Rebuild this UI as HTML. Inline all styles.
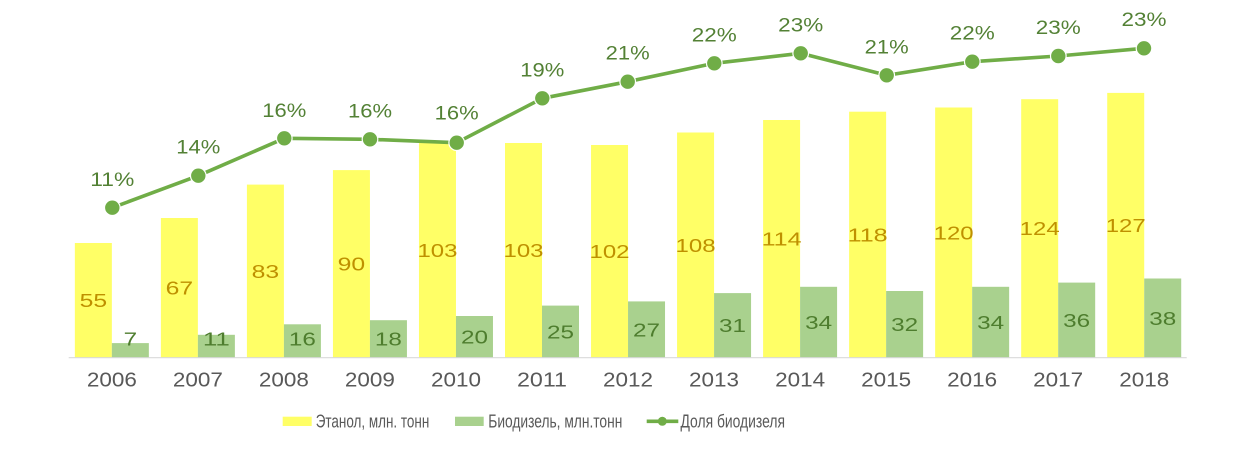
<!DOCTYPE html>
<html>
<head>
<meta charset="utf-8">
<style>
html,body{margin:0;padding:0;background:#fff;}
svg{display:block;}
text{font-family:"Liberation Sans","DejaVu Sans",sans-serif;}
</style>
</head>
<body>
<svg width="1259" height="451" viewBox="0 0 1259 451" xmlns="http://www.w3.org/2000/svg">
<rect width="1259" height="451" fill="#fff"/>
<!-- bars -->
<g id="bars">
<!-- 2006 c=111.85 -->
<rect x="74.85" y="243.0" width="37" height="114.7" fill="#FFFF66"/>
<rect x="111.85" y="343.1" width="37" height="14.6" fill="#A9D18E"/>
<!-- 2007 c=197.88 -->
<rect x="160.88" y="218.0" width="37" height="139.7" fill="#FFFF66"/>
<rect x="197.88" y="334.8" width="37" height="22.9" fill="#A9D18E"/>
<!-- 2008 c=283.91 -->
<rect x="246.91" y="184.6" width="37" height="173.1" fill="#FFFF66"/>
<rect x="283.91" y="324.3" width="37" height="33.4" fill="#A9D18E"/>
<!-- 2009 c=369.94 -->
<rect x="332.94" y="170.1" width="37" height="187.6" fill="#FFFF66"/>
<rect x="369.94" y="320.2" width="37" height="37.5" fill="#A9D18E"/>
<!-- 2010 c=455.97 -->
<rect x="418.97" y="143.0" width="37" height="214.7" fill="#FFFF66"/>
<rect x="455.97" y="316.0" width="37" height="41.7" fill="#A9D18E"/>
<!-- 2011 c=542.0 -->
<rect x="505.0" y="143.0" width="37" height="214.7" fill="#FFFF66"/>
<rect x="542.0" y="305.6" width="37" height="52.1" fill="#A9D18E"/>
<!-- 2012 c=628.03 -->
<rect x="591.03" y="145.0" width="37" height="212.7" fill="#FFFF66"/>
<rect x="628.03" y="301.4" width="37" height="56.3" fill="#A9D18E"/>
<!-- 2013 c=714.06 -->
<rect x="677.06" y="132.5" width="37" height="225.2" fill="#FFFF66"/>
<rect x="714.06" y="293.1" width="37" height="64.6" fill="#A9D18E"/>
<!-- 2014 c=800.09 -->
<rect x="763.09" y="120.0" width="37" height="237.7" fill="#FFFF66"/>
<rect x="800.09" y="286.8" width="37" height="70.9" fill="#A9D18E"/>
<!-- 2015 c=886.12 -->
<rect x="849.12" y="111.7" width="37" height="246.0" fill="#FFFF66"/>
<rect x="886.12" y="291.0" width="37" height="66.7" fill="#A9D18E"/>
<!-- 2016 c=972.15 -->
<rect x="935.15" y="107.5" width="37" height="250.2" fill="#FFFF66"/>
<rect x="972.15" y="286.8" width="37" height="70.9" fill="#A9D18E"/>
<!-- 2017 c=1058.18 -->
<rect x="1021.18" y="99.2" width="37" height="258.5" fill="#FFFF66"/>
<rect x="1058.18" y="282.6" width="37" height="75.1" fill="#A9D18E"/>
<!-- 2018 c=1144.21 -->
<rect x="1107.21" y="92.9" width="37" height="264.8" fill="#FFFF66"/>
<rect x="1144.21" y="278.5" width="37" height="79.2" fill="#A9D18E"/>
</g>
<!-- axis -->
<line x1="68.7" y1="357.7" x2="1186.7" y2="357.7" stroke="#D9D9D9" stroke-width="1.2"/>

<!-- ethanol labels -->
<g fill="#BF9000" font-size="18.5" text-anchor="middle" lengthAdjust="spacingAndGlyphs">
<text x="93.35" y="307.0" textLength="27.5" lengthAdjust="spacingAndGlyphs">55</text>
<text x="179.38" y="294.5" textLength="27.5" lengthAdjust="spacingAndGlyphs">67</text>
<text x="265.41" y="277.8" textLength="27.5" lengthAdjust="spacingAndGlyphs">83</text>
<text x="351.44" y="270.6" textLength="27.5" lengthAdjust="spacingAndGlyphs">90</text>
<text x="437.47" y="257.0" textLength="40" lengthAdjust="spacingAndGlyphs">103</text>
<text x="523.5" y="257.0" textLength="40" lengthAdjust="spacingAndGlyphs">103</text>
<text x="609.53" y="258.0" textLength="40" lengthAdjust="spacingAndGlyphs">102</text>
<text x="695.56" y="251.8" textLength="40" lengthAdjust="spacingAndGlyphs">108</text>
<text x="781.59" y="245.5" textLength="40" lengthAdjust="spacingAndGlyphs">114</text>
<text x="867.62" y="241.4" textLength="40" lengthAdjust="spacingAndGlyphs">118</text>
<text x="953.65" y="239.3" textLength="40" lengthAdjust="spacingAndGlyphs">120</text>
<text x="1039.68" y="235.1" textLength="40" lengthAdjust="spacingAndGlyphs">124</text>
<text x="1125.71" y="232.0" textLength="40" lengthAdjust="spacingAndGlyphs">127</text>
</g>
<!-- biodiesel labels -->
<g fill="#4E7D2E" font-size="18.5" text-anchor="middle">
<text x="130.35" y="345.3" textLength="13.5" lengthAdjust="spacingAndGlyphs">7</text>
<text x="216.38" y="345.6" textLength="27" lengthAdjust="spacingAndGlyphs">11</text>
<text x="302.41" y="345.6" textLength="27" lengthAdjust="spacingAndGlyphs">16</text>
<text x="388.44" y="345.6" textLength="27" lengthAdjust="spacingAndGlyphs">18</text>
<text x="474.47" y="343.5" textLength="27" lengthAdjust="spacingAndGlyphs">20</text>
<text x="560.5" y="338.4" textLength="27" lengthAdjust="spacingAndGlyphs">25</text>
<text x="646.53" y="336.3" textLength="27" lengthAdjust="spacingAndGlyphs">27</text>
<text x="732.56" y="332.1" textLength="27" lengthAdjust="spacingAndGlyphs">31</text>
<text x="818.59" y="329.0" textLength="27" lengthAdjust="spacingAndGlyphs">34</text>
<text x="904.62" y="331.1" textLength="27" lengthAdjust="spacingAndGlyphs">32</text>
<text x="990.65" y="329.0" textLength="27" lengthAdjust="spacingAndGlyphs">34</text>
<text x="1076.68" y="326.9" textLength="27" lengthAdjust="spacingAndGlyphs">36</text>
<text x="1162.71" y="324.8" textLength="27" lengthAdjust="spacingAndGlyphs">38</text>
</g>

<!-- line -->
<polyline fill="none" stroke="#70AD47" stroke-width="3.6" stroke-linejoin="round"
 points="112.3,207.7 198.3,175.7 284.3,138.3 370,139.3 456.7,142.7 542.3,98.3 627.7,81.7 714.3,63.3 800.7,53.3 886.7,75.3 972.3,61.7 1058.3,56 1144,48.3"/>
<g fill="#70AD47" stroke="#fff" stroke-width="1.2">
<circle cx="112.3" cy="207.7" r="7.8"/>
<circle cx="198.3" cy="175.7" r="7.8"/>
<circle cx="284.3" cy="138.3" r="7.8"/>
<circle cx="370" cy="139.3" r="7.8"/>
<circle cx="456.7" cy="142.7" r="7.8"/>
<circle cx="542.3" cy="98.3" r="7.8"/>
<circle cx="627.7" cy="81.7" r="7.8"/>
<circle cx="714.3" cy="63.3" r="7.8"/>
<circle cx="800.7" cy="53.3" r="7.8"/>
<circle cx="886.7" cy="75.3" r="7.8"/>
<circle cx="972.3" cy="61.7" r="7.8"/>
<circle cx="1058.3" cy="56" r="7.8"/>
<circle cx="1144" cy="48.3" r="7.8"/>
</g>
<!-- percent labels -->
<g fill="#538135" font-size="19" text-anchor="middle">
<text x="112.3" y="186.0" textLength="44" lengthAdjust="spacingAndGlyphs">11%</text>
<text x="198.3" y="153.7" textLength="44" lengthAdjust="spacingAndGlyphs">14%</text>
<text x="284.3" y="117.0" textLength="44" lengthAdjust="spacingAndGlyphs">16%</text>
<text x="370" y="117.3" textLength="44" lengthAdjust="spacingAndGlyphs">16%</text>
<text x="456.7" y="119.5" textLength="44" lengthAdjust="spacingAndGlyphs">16%</text>
<text x="542.3" y="76.3" textLength="44" lengthAdjust="spacingAndGlyphs">19%</text>
<text x="627.7" y="59.7" textLength="44" lengthAdjust="spacingAndGlyphs">21%</text>
<text x="714.3" y="41.3" textLength="45" lengthAdjust="spacingAndGlyphs">22%</text>
<text x="800.7" y="31.3" textLength="45" lengthAdjust="spacingAndGlyphs">23%</text>
<text x="886.7" y="53.3" textLength="44" lengthAdjust="spacingAndGlyphs">21%</text>
<text x="972.3" y="39.7" textLength="45" lengthAdjust="spacingAndGlyphs">22%</text>
<text x="1058.3" y="34.0" textLength="45" lengthAdjust="spacingAndGlyphs">23%</text>
<text x="1144" y="26.0" textLength="45" lengthAdjust="spacingAndGlyphs">23%</text>
</g>

<!-- axis labels -->
<g fill="#595959" font-size="20" text-anchor="middle">
<text x="111.85" y="386.7" textLength="50" lengthAdjust="spacingAndGlyphs">2006</text>
<text x="197.88" y="386.7" textLength="50" lengthAdjust="spacingAndGlyphs">2007</text>
<text x="283.91" y="386.7" textLength="50" lengthAdjust="spacingAndGlyphs">2008</text>
<text x="369.94" y="386.7" textLength="50" lengthAdjust="spacingAndGlyphs">2009</text>
<text x="455.97" y="386.7" textLength="50" lengthAdjust="spacingAndGlyphs">2010</text>
<text x="542.0" y="386.7" textLength="50" lengthAdjust="spacingAndGlyphs">2011</text>
<text x="628.03" y="386.7" textLength="50" lengthAdjust="spacingAndGlyphs">2012</text>
<text x="714.06" y="386.7" textLength="50" lengthAdjust="spacingAndGlyphs">2013</text>
<text x="800.09" y="386.7" textLength="50" lengthAdjust="spacingAndGlyphs">2014</text>
<text x="886.12" y="386.7" textLength="50" lengthAdjust="spacingAndGlyphs">2015</text>
<text x="972.15" y="386.7" textLength="50" lengthAdjust="spacingAndGlyphs">2016</text>
<text x="1058.18" y="386.7" textLength="50" lengthAdjust="spacingAndGlyphs">2017</text>
<text x="1144.21" y="386.7" textLength="50" lengthAdjust="spacingAndGlyphs">2018</text>
</g>

<!-- legend -->
<rect x="282.7" y="416.7" width="29" height="9.3" fill="#FFFF66"/>
<text x="315.7" y="427.3" font-size="18" fill="#595959" textLength="113.6" lengthAdjust="spacingAndGlyphs">Этанол, млн. тонн</text>
<rect x="455" y="416.7" width="28.7" height="9.3" fill="#A9D18E"/>
<text x="488.3" y="427.3" font-size="18" fill="#595959" textLength="134" lengthAdjust="spacingAndGlyphs">Биодизель, млн.тонн</text>
<line x1="646.7" y1="421.3" x2="678.3" y2="421.3" stroke="#70AD47" stroke-width="3.6"/>
<circle cx="662.3" cy="421.3" r="4.5" fill="#70AD47"/>
<text x="680.5" y="427.3" font-size="18" fill="#595959" textLength="104.5" lengthAdjust="spacingAndGlyphs">Доля биодизеля</text>
</svg>
</body>
</html>
